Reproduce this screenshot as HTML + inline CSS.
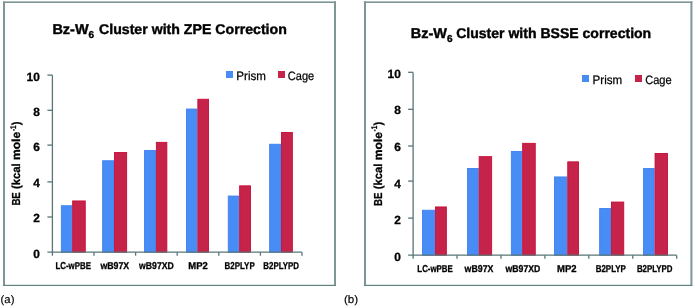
<!DOCTYPE html>
<html><head><meta charset="utf-8"><style>
html,body{margin:0;padding:0;background:#fff;}
svg{display:block;font-family:"Liberation Sans", sans-serif;text-rendering:geometricPrecision;will-change:transform;}
</style></head><body>
<svg width="694" height="306" viewBox="0 0 694 306">
<rect width="694" height="306" fill="#fff"/>
<rect x="3" y="1.4" width="2" height="284.20000000000005" fill="#7d9797"/>
<rect x="334" y="1.4" width="2" height="284.20000000000005" fill="#7d9797"/>
<rect x="3" y="1.4" width="333" height="1.6" fill="#7d9797"/>
<rect x="3" y="284.8" width="333" height="1.2" fill="#648282"/>
<rect x="61.35" y="205.75" width="10.40" height="46.45" fill="#488cf6" stroke="#3f80f2" stroke-width="0.9"/>
<rect x="72.65" y="200.95" width="12.60" height="51.25" fill="#c6234a" stroke="#c80c36" stroke-width="0.9"/>
<rect x="102.65" y="160.75" width="10.90" height="91.45" fill="#488cf6" stroke="#3f80f2" stroke-width="0.9"/>
<rect x="114.45" y="152.55" width="12.20" height="99.65" fill="#c6234a" stroke="#c80c36" stroke-width="0.9"/>
<rect x="144.50" y="150.55" width="10.95" height="101.65" fill="#488cf6" stroke="#3f80f2" stroke-width="0.9"/>
<rect x="156.35" y="142.35" width="10.50" height="109.85" fill="#c6234a" stroke="#c80c36" stroke-width="0.9"/>
<rect x="186.50" y="109.05" width="10.45" height="143.15" fill="#488cf6" stroke="#3f80f2" stroke-width="0.9"/>
<rect x="197.85" y="99.25" width="10.60" height="152.95" fill="#c6234a" stroke="#c80c36" stroke-width="0.9"/>
<rect x="228.25" y="196.05" width="10.50" height="56.15" fill="#488cf6" stroke="#3f80f2" stroke-width="0.9"/>
<rect x="239.65" y="185.85" width="10.80" height="66.35" fill="#c6234a" stroke="#c80c36" stroke-width="0.9"/>
<rect x="269.65" y="144.25" width="10.90" height="107.95" fill="#488cf6" stroke="#3f80f2" stroke-width="0.9"/>
<rect x="281.45" y="132.45" width="10.90" height="119.75" fill="#c6234a" stroke="#c80c36" stroke-width="0.9"/>
<line x1="52.4" y1="75.10" x2="52.4" y2="255.70" stroke="#587676" stroke-width="1.3"/>
<line x1="47.40" y1="252.2" x2="302.00" y2="252.2" stroke="#587676" stroke-width="1.3"/>
<line x1="47.40" y1="217.00" x2="52.4" y2="217.00" stroke="#587676" stroke-width="1.3"/>
<line x1="47.40" y1="181.90" x2="52.4" y2="181.90" stroke="#587676" stroke-width="1.3"/>
<line x1="47.40" y1="145.10" x2="52.4" y2="145.10" stroke="#587676" stroke-width="1.3"/>
<line x1="47.40" y1="110.30" x2="52.4" y2="110.30" stroke="#587676" stroke-width="1.3"/>
<line x1="47.40" y1="75.10" x2="52.4" y2="75.10" stroke="#587676" stroke-width="1.3"/>
<line x1="94.00" y1="252.2" x2="94.00" y2="255.70" stroke="#587676" stroke-width="1.3"/>
<line x1="135.60" y1="252.2" x2="135.60" y2="255.70" stroke="#587676" stroke-width="1.3"/>
<line x1="177.20" y1="252.2" x2="177.20" y2="255.70" stroke="#587676" stroke-width="1.3"/>
<line x1="218.80" y1="252.2" x2="218.80" y2="255.70" stroke="#587676" stroke-width="1.3"/>
<line x1="260.40" y1="252.2" x2="260.40" y2="255.70" stroke="#587676" stroke-width="1.3"/>
<line x1="302.00" y1="252.2" x2="302.00" y2="255.70" stroke="#587676" stroke-width="1.3"/>
<text x="39.80" y="257.60" font-size="11.9" font-weight="bold" stroke="#000" stroke-width="0.3" text-anchor="end" fill="#000" >0</text>
<text x="39.80" y="222.18" font-size="11.9" font-weight="bold" stroke="#000" stroke-width="0.3" text-anchor="end" fill="#000" >2</text>
<text x="39.80" y="186.76" font-size="11.9" font-weight="bold" stroke="#000" stroke-width="0.3" text-anchor="end" fill="#000" >4</text>
<text x="39.80" y="151.34" font-size="11.9" font-weight="bold" stroke="#000" stroke-width="0.3" text-anchor="end" fill="#000" >6</text>
<text x="39.80" y="115.92" font-size="11.9" font-weight="bold" stroke="#000" stroke-width="0.3" text-anchor="end" fill="#000" >8</text>
<text x="39.80" y="80.50" font-size="11.9" font-weight="bold" stroke="#000" stroke-width="0.3" text-anchor="end" fill="#000" >10</text>
<text x="55.45" y="268.90" font-size="10.0" font-weight="bold" stroke="#000" stroke-width="0.3" text-anchor="start" textLength="35.50" lengthAdjust="spacingAndGlyphs" fill="#000" >LC-wPBE</text>
<text x="100.40" y="268.90" font-size="10.0" font-weight="bold" stroke="#000" stroke-width="0.3" text-anchor="start" textLength="28.80" lengthAdjust="spacingAndGlyphs" fill="#000" >wB97X</text>
<text x="139.05" y="268.90" font-size="10.0" font-weight="bold" stroke="#000" stroke-width="0.3" text-anchor="start" textLength="34.70" lengthAdjust="spacingAndGlyphs" fill="#000" >wB97XD</text>
<text x="188.25" y="268.90" font-size="10.0" font-weight="bold" stroke="#000" stroke-width="0.3" text-anchor="start" textLength="19.50" lengthAdjust="spacingAndGlyphs" fill="#000" >MP2</text>
<text x="224.50" y="268.90" font-size="10.0" font-weight="bold" stroke="#000" stroke-width="0.3" text-anchor="start" textLength="30.20" lengthAdjust="spacingAndGlyphs" fill="#000" >B2PLYP</text>
<text x="263.35" y="268.90" font-size="10.0" font-weight="bold" stroke="#000" stroke-width="0.3" text-anchor="start" textLength="35.70" lengthAdjust="spacingAndGlyphs" fill="#000" >B2PLYPD</text>
<text x="52.40" y="34.10" font-size="14.1" font-weight="bold" stroke="#000" stroke-width="0.4" text-anchor="start" textLength="36.20" lengthAdjust="spacingAndGlyphs" fill="#000" >Bz-W</text>
<text x="88.40" y="38.00" font-size="10" font-weight="bold" stroke="#000" stroke-width="0.4" text-anchor="start" fill="#000" >6</text>
<text x="99.00" y="34.10" font-size="14.1" font-weight="bold" stroke="#000" stroke-width="0.4" text-anchor="start" textLength="187.80" lengthAdjust="spacingAndGlyphs" fill="#000" >Cluster with ZPE Correction</text>
<rect x="226" y="71" width="7" height="7" fill="#488cf6"/>
<rect x="278" y="71" width="7" height="7" fill="#c6234a"/>
<text x="236.30" y="79.80" font-size="12.2" stroke="#000" stroke-width="0.25" text-anchor="start" textLength="29.60" lengthAdjust="spacingAndGlyphs" fill="#000" >Prism</text>
<text x="287.80" y="79.80" font-size="12.2" stroke="#000" stroke-width="0.25" text-anchor="start" textLength="26.40" lengthAdjust="spacingAndGlyphs" fill="#000" >Cage</text>
<g transform="translate(20.20,205.60) rotate(-90)"><text x="0.00" y="0.00" font-size="11.6" font-weight="bold" stroke="#000" stroke-width="0.3" text-anchor="start" textLength="13.40" lengthAdjust="spacingAndGlyphs" fill="#000" >BE</text><text x="16.60" y="0.00" font-size="11.6" font-weight="bold" stroke="#000" stroke-width="0.3" text-anchor="start" textLength="25.60" lengthAdjust="spacingAndGlyphs" fill="#000" >(kcal</text><text x="45.60" y="0.00" font-size="11.6" font-weight="bold" stroke="#000" stroke-width="0.3" text-anchor="start" textLength="28.20" lengthAdjust="spacingAndGlyphs" fill="#000" >mole</text><text x="74.50" y="-4.30" font-size="8.2" font-weight="bold" stroke="#000" stroke-width="0.3" text-anchor="start" textLength="5.60" lengthAdjust="spacingAndGlyphs" fill="#000" >-1</text><text x="80.30" y="0.00" font-size="11.6" font-weight="bold" stroke="#000" stroke-width="0.3" text-anchor="start" textLength="3.80" lengthAdjust="spacingAndGlyphs" fill="#000" >)</text></g>
<rect x="364" y="1.4" width="2" height="284.20000000000005" fill="#7d9797"/>
<rect x="690.4" y="1.4" width="2" height="284.20000000000005" fill="#7d9797"/>
<rect x="364" y="1.4" width="328.4" height="1.6" fill="#7d9797"/>
<rect x="364" y="284.8" width="328.4" height="1.2" fill="#648282"/>
<rect x="422.50" y="210.25" width="12.15" height="44.95" fill="#488cf6" stroke="#3f80f2" stroke-width="0.9"/>
<rect x="435.55" y="206.95" width="10.80" height="48.25" fill="#c6234a" stroke="#c80c36" stroke-width="0.9"/>
<rect x="467.55" y="168.45" width="10.70" height="86.75" fill="#488cf6" stroke="#3f80f2" stroke-width="0.9"/>
<rect x="479.15" y="156.65" width="12.50" height="98.55" fill="#c6234a" stroke="#c80c36" stroke-width="0.9"/>
<rect x="511.35" y="151.45" width="10.40" height="103.75" fill="#488cf6" stroke="#3f80f2" stroke-width="0.9"/>
<rect x="522.65" y="143.35" width="12.60" height="111.85" fill="#c6234a" stroke="#c80c36" stroke-width="0.9"/>
<rect x="554.50" y="176.95" width="12.35" height="78.25" fill="#488cf6" stroke="#3f80f2" stroke-width="0.9"/>
<rect x="567.75" y="161.85" width="10.70" height="93.35" fill="#c6234a" stroke="#c80c36" stroke-width="0.9"/>
<rect x="599.65" y="208.55" width="10.90" height="46.65" fill="#488cf6" stroke="#3f80f2" stroke-width="0.9"/>
<rect x="611.45" y="202.05" width="12.30" height="53.15" fill="#c6234a" stroke="#c80c36" stroke-width="0.9"/>
<rect x="643.55" y="168.55" width="10.60" height="86.65" fill="#488cf6" stroke="#3f80f2" stroke-width="0.9"/>
<rect x="655.05" y="153.45" width="12.40" height="101.75" fill="#c6234a" stroke="#c80c36" stroke-width="0.9"/>
<line x1="413.1" y1="72.50" x2="413.1" y2="258.70" stroke="#587676" stroke-width="1.3"/>
<line x1="408.10" y1="255.2" x2="676.70" y2="255.2" stroke="#587676" stroke-width="1.3"/>
<line x1="408.10" y1="218.10" x2="413.1" y2="218.10" stroke="#587676" stroke-width="1.3"/>
<line x1="408.10" y1="181.10" x2="413.1" y2="181.10" stroke="#587676" stroke-width="1.3"/>
<line x1="408.10" y1="146.00" x2="413.1" y2="146.00" stroke="#587676" stroke-width="1.3"/>
<line x1="408.10" y1="109.30" x2="413.1" y2="109.30" stroke="#587676" stroke-width="1.3"/>
<line x1="408.10" y1="72.30" x2="413.1" y2="72.30" stroke="#587676" stroke-width="1.3"/>
<line x1="457.03" y1="255.2" x2="457.03" y2="258.70" stroke="#587676" stroke-width="1.3"/>
<line x1="500.97" y1="255.2" x2="500.97" y2="258.70" stroke="#587676" stroke-width="1.3"/>
<line x1="544.90" y1="255.2" x2="544.90" y2="258.70" stroke="#587676" stroke-width="1.3"/>
<line x1="588.83" y1="255.2" x2="588.83" y2="258.70" stroke="#587676" stroke-width="1.3"/>
<line x1="632.77" y1="255.2" x2="632.77" y2="258.70" stroke="#587676" stroke-width="1.3"/>
<line x1="676.70" y1="255.2" x2="676.70" y2="258.70" stroke="#587676" stroke-width="1.3"/>
<text x="400.80" y="260.60" font-size="11.9" font-weight="bold" stroke="#000" stroke-width="0.3" text-anchor="end" fill="#000" >0</text>
<text x="400.80" y="224.06" font-size="11.9" font-weight="bold" stroke="#000" stroke-width="0.3" text-anchor="end" fill="#000" >2</text>
<text x="400.80" y="187.52" font-size="11.9" font-weight="bold" stroke="#000" stroke-width="0.3" text-anchor="end" fill="#000" >4</text>
<text x="400.80" y="150.98" font-size="11.9" font-weight="bold" stroke="#000" stroke-width="0.3" text-anchor="end" fill="#000" >6</text>
<text x="400.80" y="114.44" font-size="11.9" font-weight="bold" stroke="#000" stroke-width="0.3" text-anchor="end" fill="#000" >8</text>
<text x="400.80" y="77.90" font-size="11.9" font-weight="bold" stroke="#000" stroke-width="0.3" text-anchor="end" fill="#000" >10</text>
<text x="417.32" y="271.90" font-size="10.0" font-weight="bold" stroke="#000" stroke-width="0.3" text-anchor="start" textLength="35.50" lengthAdjust="spacingAndGlyphs" fill="#000" >LC-wPBE</text>
<text x="464.60" y="271.90" font-size="10.0" font-weight="bold" stroke="#000" stroke-width="0.3" text-anchor="start" textLength="28.80" lengthAdjust="spacingAndGlyphs" fill="#000" >wB97X</text>
<text x="505.58" y="271.90" font-size="10.0" font-weight="bold" stroke="#000" stroke-width="0.3" text-anchor="start" textLength="34.70" lengthAdjust="spacingAndGlyphs" fill="#000" >wB97XD</text>
<text x="557.12" y="271.90" font-size="10.0" font-weight="bold" stroke="#000" stroke-width="0.3" text-anchor="start" textLength="19.50" lengthAdjust="spacingAndGlyphs" fill="#000" >MP2</text>
<text x="595.70" y="271.90" font-size="10.0" font-weight="bold" stroke="#000" stroke-width="0.3" text-anchor="start" textLength="30.20" lengthAdjust="spacingAndGlyphs" fill="#000" >B2PLYP</text>
<text x="636.88" y="271.90" font-size="10.0" font-weight="bold" stroke="#000" stroke-width="0.3" text-anchor="start" textLength="35.70" lengthAdjust="spacingAndGlyphs" fill="#000" >B2PLYPD</text>
<text x="410.70" y="37.70" font-size="14.1" font-weight="bold" stroke="#000" stroke-width="0.4" text-anchor="start" textLength="36.20" lengthAdjust="spacingAndGlyphs" fill="#000" >Bz-W</text>
<text x="446.90" y="42.00" font-size="10" font-weight="bold" stroke="#000" stroke-width="0.4" text-anchor="start" fill="#000" >6</text>
<text x="456.20" y="37.70" font-size="14.1" font-weight="bold" stroke="#000" stroke-width="0.4" text-anchor="start" textLength="195.00" lengthAdjust="spacingAndGlyphs" fill="#000" >Cluster with BSSE correction</text>
<rect x="582" y="75" width="7" height="7" fill="#488cf6"/>
<rect x="635" y="75" width="7" height="7" fill="#c6234a"/>
<text x="592.60" y="83.80" font-size="12.2" stroke="#000" stroke-width="0.25" text-anchor="start" textLength="29.60" lengthAdjust="spacingAndGlyphs" fill="#000" >Prism</text>
<text x="645.20" y="83.80" font-size="12.2" stroke="#000" stroke-width="0.25" text-anchor="start" textLength="26.40" lengthAdjust="spacingAndGlyphs" fill="#000" >Cage</text>
<g transform="translate(381.60,205.90) rotate(-90)"><text x="0.00" y="0.00" font-size="11.6" font-weight="bold" stroke="#000" stroke-width="0.3" text-anchor="start" textLength="13.40" lengthAdjust="spacingAndGlyphs" fill="#000" >BE</text><text x="16.60" y="0.00" font-size="11.6" font-weight="bold" stroke="#000" stroke-width="0.3" text-anchor="start" textLength="25.60" lengthAdjust="spacingAndGlyphs" fill="#000" >(kcal</text><text x="45.60" y="0.00" font-size="11.6" font-weight="bold" stroke="#000" stroke-width="0.3" text-anchor="start" textLength="28.20" lengthAdjust="spacingAndGlyphs" fill="#000" >mole</text><text x="74.50" y="-4.30" font-size="8.2" font-weight="bold" stroke="#000" stroke-width="0.3" text-anchor="start" textLength="5.60" lengthAdjust="spacingAndGlyphs" fill="#000" >-1</text><text x="80.30" y="0.00" font-size="11.6" font-weight="bold" stroke="#000" stroke-width="0.3" text-anchor="start" textLength="3.80" lengthAdjust="spacingAndGlyphs" fill="#000" >)</text></g>
<text x="0.6" y="302.7" font-size="11" fill="#000" stroke="#000" stroke-width="0.15" textLength="13.8" lengthAdjust="spacingAndGlyphs">(a)</text>
<text x="344.0" y="302.7" font-size="11" fill="#000" stroke="#000" stroke-width="0.15" textLength="14.2" lengthAdjust="spacingAndGlyphs">(b)</text>
</svg>
</body></html>
